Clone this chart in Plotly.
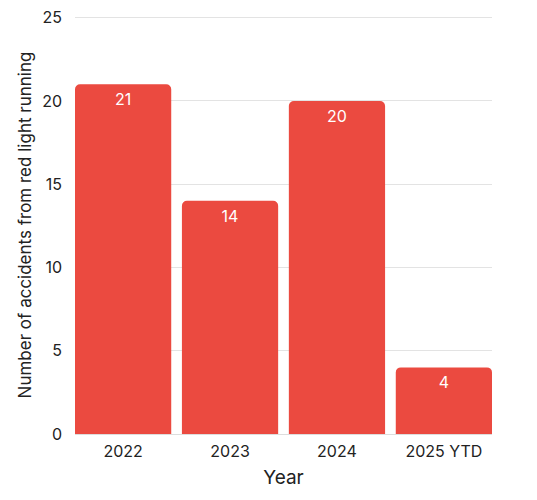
import plotly.graph_objects as go

years = ["2022", "2023", "2024", "2025 YTD"]
accidents = [21, 14, 20, 4]
y_ticks = [0, 5, 10, 15, 20, 25]

fig = go.Figure(go.Bar(
    x=years, y=accidents,
    text=[str(v) for v in accidents],
    textposition="inside", insidetextanchor="end",
    textfont=dict(color="white", size=16, family="Inter"),
    marker=dict(color="#EB4A40", cornerradius=5, line=dict(width=0)),
    width=0.9,
))
fig.update_layout(
    width=537, height=500,
    margin=dict(l=75, r=45, t=16, b=66, autoexpand=False),
    plot_bgcolor="white", paper_bgcolor="white",
    font=dict(family="Inter", size=16, color="#222222"),
    showlegend=False,
    xaxis=dict(title=dict(text="Year", standoff=10), showgrid=False, ticks="",
               range=[-0.45, 3.45],
               showline=True, linecolor="#dddddd", automargin=False,
               tickfont=dict(size=16), ticklabelstandoff=3),
    yaxis=dict(title=dict(text="Number of accidents from red light running", standoff=6, font=dict(size=17)),
               range=[0, 25.1], tickvals=y_ticks, showgrid=True, gridcolor="#e3e3e3",
               zeroline=False, ticks="", ticklabelstandoff=12, automargin=False,
               tickfont=dict(size=16)),
    bargap=0.1,
)
fig.write_html("out.html")
